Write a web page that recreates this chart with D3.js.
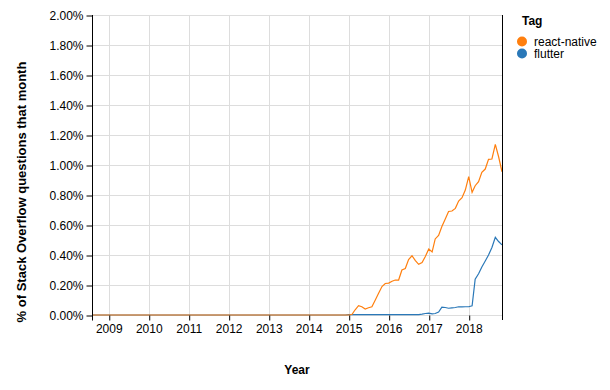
<!DOCTYPE html>
<html>
<head>
<meta charset="utf-8" />
<style>
body {
	margin: 0;
	font-family: Arial, "Liberation Sans", sans-serif;
}
svg {
	width: 610px;
	height: 390px;
	display: block;
}
.grid line {
	stroke: #ddd;
}
.tick-label {
	font-size: 12px;
	fill: #000;
}
.axis-title {
	font-size: 12px;
	font-weight: bold;
	text-anchor: middle;
}
.series {
	fill: none;
	stroke-width: 1.2;
}
</style>
</head>
<body>
<script src="https://d3js.org/d3.v7.min.js"></script>
<script>
// monthly share of SO questions (%), Aug 2008 .. Nov 2018
var firstMonth = "2008-08-01";

var tags = ["react-native", "flutter"];
var tagColors = ["#ff7f0e", "#2a78b8"];

// Aug 2008 - Dec 2014: no questions for either tag
var before2015 = [0, 0, 0, 0, 0,
    0, 0, 0, 0, 0, 0, 0, 0, 0, 0, 0, 0,
    0, 0, 0, 0, 0, 0, 0, 0, 0, 0, 0, 0,
    0, 0, 0, 0, 0, 0, 0, 0, 0, 0, 0, 0,
    0, 0, 0, 0, 0, 0, 0, 0, 0, 0, 0, 0,
    0, 0, 0, 0, 0, 0, 0, 0, 0, 0, 0, 0,
    0, 0, 0, 0, 0, 0, 0, 0, 0, 0, 0, 0];

// Jan 2015 - Nov 2018
var reactNative = [0.000, 0.005, 0.035, 0.062, 0.055, 0.040, 0.048, 0.055, 0.100, 0.145, 0.190, 0.210,
    0.213, 0.225, 0.233, 0.233, 0.300, 0.310, 0.370, 0.395, 0.362, 0.338, 0.350, 0.390,
    0.440, 0.420, 0.507, 0.530, 0.590, 0.640, 0.690, 0.693, 0.711, 0.760, 0.782, 0.833,
    0.922, 0.818, 0.862, 0.889, 0.951, 0.973, 1.038, 1.040, 1.138, 1.055, 0.955];

var flutter = [0.002, 0.002, 0.003, 0.002, 0.002, 0.003, 0.002, 0.002, 0.003, 0.002, 0.002, 0.003,
    0.002, 0.002, 0.003, 0.002, 0.003, 0.002, 0.002, 0.003, 0.003, 0.003, 0.006, 0.010,
    0.012, 0.008, 0.010, 0.020, 0.052, 0.050, 0.045, 0.048, 0.050, 0.055, 0.054, 0.055,
    0.055, 0.062, 0.238, 0.275, 0.320, 0.360, 0.400, 0.450, 0.518, 0.490, 0.467];

var yTicks = [0, 0.2, 0.4, 0.6, 0.8, 1.0, 1.2, 1.4, 1.6, 1.8, 2.0];
var xTickYears = [2009, 2010, 2011, 2012, 2013, 2014, 2015, 2016, 2017, 2018];

var plotLeft = 92, plotRight = 502, plotTop = 15, plotBottom = 315;

var start = new Date(firstMonth);
var seriesValues = [before2015.concat(reactNative), before2015.concat(flutter)];

function monthDate(i) {
	return d3.utcMonth.offset(start, i);
}

var x = d3.scaleUtc()
	.domain([start, monthDate(seriesValues[0].length - 1)])
	.range([plotLeft, plotRight]);

var y = d3.scaleLinear()
	.domain([0, 2])
	.range([plotBottom, plotTop]);

var color = d3.scaleOrdinal()
	.domain(tags)
	.range(tagColors);

var svg = d3.select("body").append("svg");

// grid
var grid = svg.append("g").attr("class", "grid");

grid.selectAll("line.h")
	.data(yTicks)
	.enter().append("line")
	.attr("x1", plotLeft)
	.attr("x2", plotRight)
	.attr("y1", function(d) { return y(d) + 0.5; })
	.attr("y2", function(d) { return y(d) + 0.5; });

var yearDates = xTickYears.map(function(yr) { return new Date(Date.UTC(yr, 0, 1)); });

grid.selectAll("line.v")
	.data(yearDates)
	.enter().append("line")
	.attr("x1", function(d) { return Math.round(x(d)) + 0.5; })
	.attr("x2", function(d) { return Math.round(x(d)) + 0.5; })
	.attr("y1", plotTop)
	.attr("y2", plotBottom);

// lines (flutter underneath)
var line = d3.line()
	.x(function(d, i) { return x(monthDate(i)); })
	.y(function(d) { return y(d); });

for (var s = tags.length - 1; s >= 0; s--) {
	svg.append("path")
		.attr("class", "series")
		.attr("stroke", color(tags[s]))
		.attr("d", line(seriesValues[s]));
}

// y axis
var yAxis = d3.axisLeft(y)
	.tickValues(yTicks)
	.tickSize(6)
	.tickPadding(3)
	.tickFormat(function(d) { return d.toFixed(2) + "%"; });

var yAxisG = svg.append("g")
	.attr("transform", "translate(" + (plotLeft + 0.5) + ",0.5)")
	.call(yAxis);

yAxisG.select(".domain").attr("d", "M0," + (plotTop - 0.5) + "V" + (plotBottom + 5));

// x axis
var xAxis = d3.axisBottom(x)
	.tickValues(yearDates)
	.tickSize(5)
	.tickPadding(4)
	.tickFormat(d3.utcFormat("%Y"));

var xAxisG = svg.append("g")
	.attr("transform", "translate(0," + (plotBottom + 0.5) + ")")
	.call(xAxis);

xAxisG.select(".domain").remove();
xAxisG.selectAll(".tick line").attr("transform", "translate(0.5,0)");

svg.selectAll(".tick text")
	.attr("class", "tick-label");
svg.selectAll("g").attr("font-family", null).attr("font-size", null);

// right edge line
svg.append("line")
	.attr("x1", plotRight + 0.5)
	.attr("x2", plotRight + 0.5)
	.attr("y1", plotTop)
	.attr("y2", plotBottom + 5)
	.attr("stroke", "#000");

// axis titles
svg.append("text")
	.attr("class", "axis-title")
	.attr("x", (plotLeft + plotRight) / 2)
	.attr("y", 374)
	.text("Year");

svg.append("text")
	.attr("class", "axis-title")
	.attr("font-size", 13)
	.style("font-size", "13px")
	.attr("transform", "translate(25.5,192) rotate(-90)")
	.text("% of Stack Overflow questions that month");

// legend
var legend = svg.append("g")
	.attr("transform", "translate(522,0)");

legend.append("text")
	.attr("x", 0)
	.attr("y", 25)
	.attr("font-size", 12)
	.attr("font-weight", "bold")
	.text("Tag");

for (var i = 0; i < tags.length; i++) {
	legend.append("circle")
		.attr("cx", 0)
		.attr("cy", 41.5 + i * 12)
		.attr("r", 5)
		.attr("fill", color(tags[i]));
	legend.append("text")
		.attr("x", 12)
		.attr("y", 45.5 + i * 12)
		.attr("font-size", 12)
		.text(tags[i]);
}
</script>
</body>
</html>
